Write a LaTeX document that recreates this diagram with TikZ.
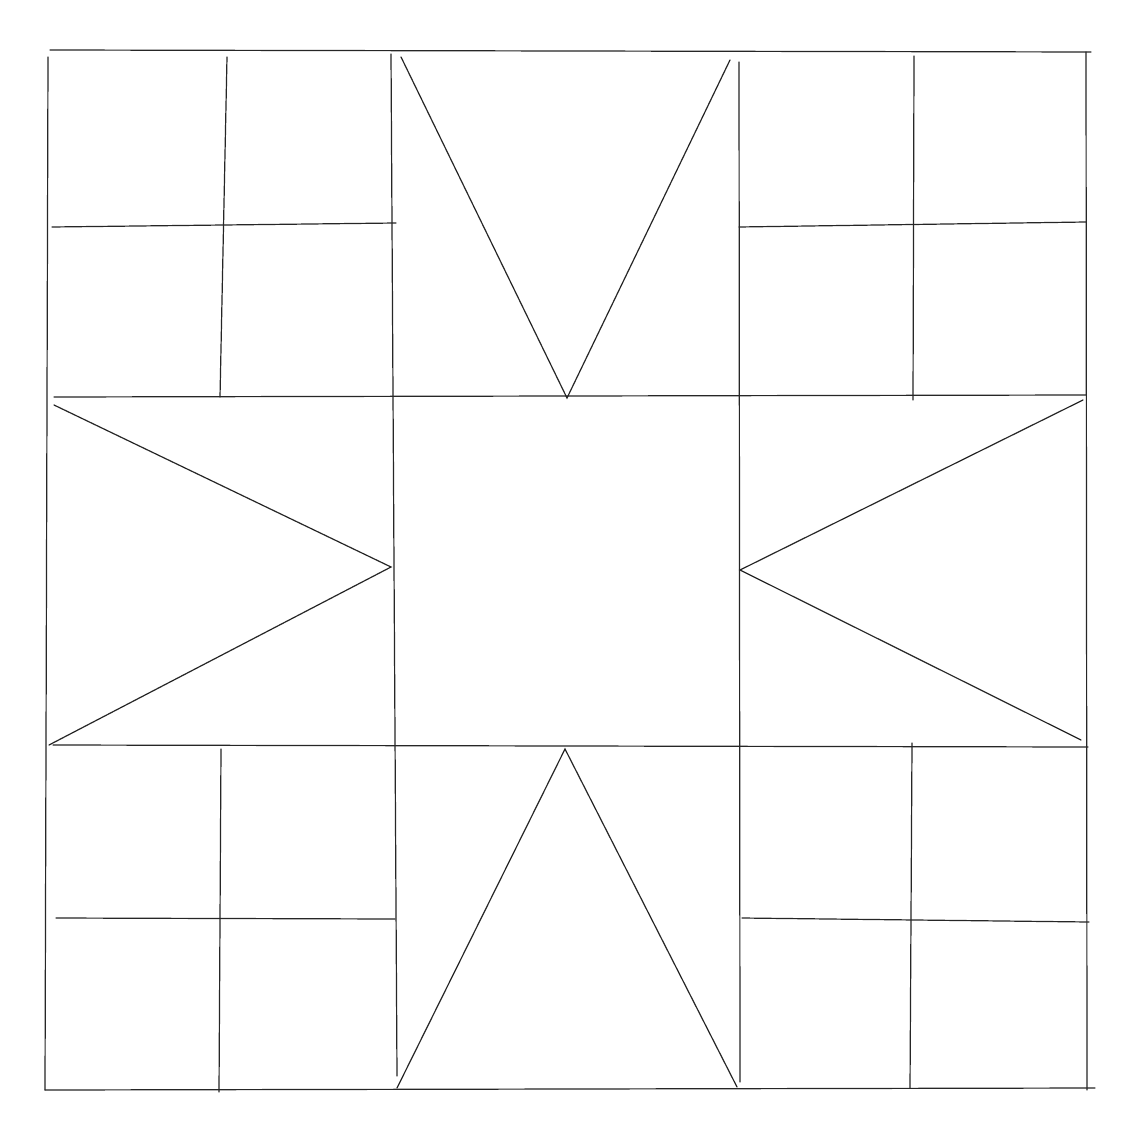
\documentclass[tikz,border=0pt]{standalone}
\begin{document}
\begin{tikzpicture}[x=0.5pt,y=-0.5pt,line cap=round]
\tikzset{pen/.style={draw=black!85,line width=0.6pt}}
\useasboundingbox[fill=white] (0,0) rectangle (1140,1144);
% outer frame
\draw[pen] (50,50) -- (1091,52);
\draw[pen] (48,57) -- (45,1090);
\draw[pen] (45,1090) -- (1095,1088);
\draw[pen] (1086,52) -- (1087,1090);
% main verticals
\draw[pen] (391,54) -- (397,1076);
\draw[pen] (739,62) -- (740,1082);
% main horizontals
\draw[pen] (54,397) -- (1086,395);
\draw[pen] (53,745) -- (1088,747);
% corner quadrants
\draw[pen] (227,57) -- (220,397);
\draw[pen] (52,227) -- (396,223);
\draw[pen] (914,56) -- (913,400);
\draw[pen] (739,227) -- (1086,222);
\draw[pen] (221,749) -- (219,1092);
\draw[pen] (56,918) -- (395,919);
\draw[pen] (912,743) -- (910,1088);
\draw[pen] (742,918) -- (1089,922);
% star points
\coordinate (tp) at (567,398);
\draw[pen] (401,57) -- (tp) -- (730,60);
\coordinate (lp) at (391,567);
\draw[pen] (54,405) -- (lp) -- (49,745);
\coordinate (rp) at (740,570);
\draw[pen] (1083,400) -- (rp) -- (1081,740);
\coordinate (bp) at (565,749);
\draw[pen] (397,1088) -- (bp) -- (737,1087);
\end{tikzpicture}
\end{document}
